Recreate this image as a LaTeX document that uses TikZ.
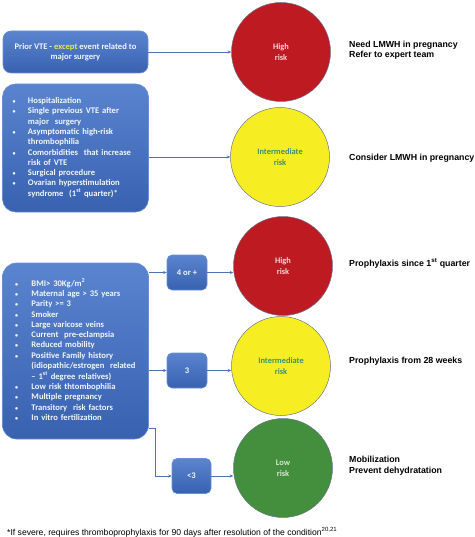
\documentclass[tikz,border=0pt]{standalone}
\usepackage{fontspec}
\setmainfont{Carlito}
\newfontfamily\arialf{Liberation Sans}
\usetikzlibrary{arrows.meta}
\definecolor{boxtop}{HTML}{5A84CF}
\definecolor{boxbot}{HTML}{3862B0}
\definecolor{boxline}{HTML}{6C8FD2}
\definecolor{arrowc}{HTML}{4F72B2}
\definecolor{riskred}{HTML}{BE1A22}
\definecolor{riskyellow}{HTML}{F6EE22}
\definecolor{riskgreen}{HTML}{438F3E}
\definecolor{circline}{HTML}{6E7590}
\definecolor{boxtext}{HTML}{F2F5FB}
\definecolor{exceptc}{HTML}{E6E84E}
\definecolor{hightext}{HTML}{F6D6D6}
\definecolor{midtext}{HTML}{3E9070}
\definecolor{lowtext}{HTML}{D6E6D0}
\newcommand{\bul}{{\fontsize{6}{6}\selectfont\textbullet}}
\begin{document}
\begin{tikzpicture}[x=1pt,y=-1pt,
  bluebox/.style={draw=boxline, line width=0.6pt, top color=boxtop, bottom color=boxbot,
    rounded corners=#1, inner sep=0pt, text=boxtext,
    font=\fontsize{8.6}{10.3}\selectfont\bfseries},
  bluebox/.default=10pt,
  riskcirc/.style={circle, draw=circline, line width=0.5pt, minimum size=99pt, inner sep=0pt,
    align=center, font=\fontsize{8.4}{11}\selectfont\bfseries},
  advice/.style={anchor=west, align=left, inner sep=0pt,
    font=\arialf\fontsize{8.8}{10.5}\selectfont\bfseries},
  conn/.style={draw=arrowc, line width=0.6pt, -{Stealth[length=3.5pt,width=3pt]}}
]
\useasboundingbox (0,0) rectangle (474,537);

% left boxes
\node[bluebox=8pt, minimum width=145pt, minimum height=42pt, align=center] (b1) at (75.5,52)
  {Prior VTE - {\color{exceptc}except} event related to\\ major surgery};

\node[bluebox=13pt, minimum width=146pt, minimum height=128pt, text width=130pt,
      inner xsep=8pt, align=left] (b2) at (75.5,148)
  {\begin{tabular}{@{\hspace{2pt}}l@{\hspace{12.5pt}}l@{}}
  \bul & Hospitalization\\
  \bul & Single previous VTE after\\
   & major\ \ surgery\\
  \bul & Asymptomatic high-risk\\
   & thrombophilia\\
  \bul & Comorbidities\ \ that increase\\
   & risk of VTE\\
  \bul & Surgical procedure\\
  \bul & Ovarian hyperstimulation\\
   & syndrome\ \ (1\textsuperscript{st} quarter)*
  \end{tabular}};

\node[bluebox=14pt, minimum width=146pt, minimum height=176pt, text width=128pt,
      inner xsep=9pt, align=left] (b3) at (75.5,351)
  {\begin{tabular}{@{\hspace{3.5pt}}l@{\hspace{13.5pt}}l@{}}
  \bul & BMI> 30Kg/m\textsuperscript{2}\\
  \bul & Maternal age > 35 years\\
  \bul & Parity >= 3\\
  \bul & Smoker\\
  \bul & Large varicose veins\\
  \bul & Current\ \ pre-eclampsia\\
  \bul & Reduced mobility\\
  \bul & Positive Family history\\
   & (idiopathic/estrogen\ \ related\\
   & -- 1\textsuperscript{st} degree relatives)\\
  \bul & Low risk thtombophilia\\
  \bul & Multiple pregnancy\\
  \bul & Transitory\ \ risk factors\\
  \bul & In vitro fertilization
  \end{tabular}};

% small count boxes
\node[bluebox=5pt, minimum width=40pt, minimum height=35pt] (s1) at (187,272.5) {4 or +};
\node[bluebox=5pt, minimum width=40pt, minimum height=35pt] (s2) at (187,370.5) {3};
\node[bluebox=5pt, minimum width=39pt, minimum height=35pt] (s3) at (191.5,476) {<3};

% circles
\node[riskcirc, fill=riskred, text=hightext] (c1) at (281,52) {High\\ risk};
\node[riskcirc, fill=riskyellow, text=midtext] (c2) at (280,157) {Intermediate\\ risk};
\node[riskcirc, fill=riskred, text=hightext] (c3) at (283,266) {High\\ risk};
\node[riskcirc, fill=riskyellow, text=midtext] (c4) at (281,366) {Intermediate\\ risk};
\node[riskcirc, fill=riskgreen, text=lowtext] (c5) at (283,468) {Low\\ risk};

% advice texts
\node[advice] (a1) at (349,50) {Need LMWH in pregnancy\\ Refer to expert team};
\node[advice] (a2) at (349,158) {Consider LMWH in pregnancy};
\node[advice] (a3) at (349,263) {Prophylaxis since 1\textsuperscript{st} quarter};
\node[advice] (a4) at (349,361) {Prophylaxis from 28 weeks};
\node[advice] (a5) at (349,465.5) {Mobilization\\ Prevent dehydratation};

% footnote
\node[anchor=west, inner sep=0pt, font=\arialf\fontsize{8.6}{10}\selectfont] (fn) at (7,532)
  {*If severe, requires thromboprophylaxis for 90 days after resolution of the condition\textsuperscript{20,21}};

% connectors
\coordinate (e1) at (155,428);
\draw[conn] (b1.east) -- (c1.west);
\draw[conn] (b2.east |- c2.west) -- (c2.west);
\draw[conn] (b3.east |- s1.west) -- (s1.west);
\draw[conn] (b3.east |- s2.west) -- (s2.west);
\draw[conn] (b3.east |- e1) -- (e1) |- (s3.west);
\draw[conn] (s1.east) -- (s1.east -| c3.west);
\draw[conn] (s2.east) -- (s2.east -| c4.west);
\draw[conn] (s3.east) -- (s3.east -| c5.west);
\end{tikzpicture}
\end{document}
